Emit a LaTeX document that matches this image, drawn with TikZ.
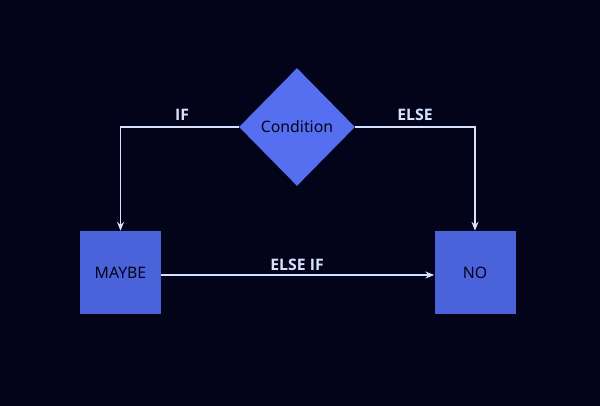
\documentclass[tikz,border=0pt]{standalone}
\usepackage{fontspec}
\setmainfont{Noto Sans}
\newfontfamily\lblfont{Open Sans}
\usetikzlibrary{shapes.geometric,arrows.meta}
\definecolor{bgnavy}{HTML}{03031A}
\definecolor{boxblue}{HTML}{4A63DB}
\definecolor{diablue}{HTML}{566EF0}
\definecolor{linecol}{HTML}{D6E2FF}
\tikzset{
  box/.style={fill=boxblue,minimum width=1.62cm,minimum height=1.66cm,inner sep=0pt,font=\small,text=bgnavy},
  cond/.style={diamond,fill=diablue,minimum width=2.32cm,minimum height=2.36cm,inner sep=0pt,font=\small,text=bgnavy},
  link/.style={draw=linecol,line width=0.8pt,-{Stealth[length=5pt,width=4pt]}},
  lbl/.style={text=linecol,font=\lblfont\small\bfseries}
}
\begin{document}
\begin{tikzpicture}
    \fill[bgnavy] (0,0) rectangle (12,8.12);
    \node[cond] (cond) at (5.94,5.58) {Condition};
    \node[box] (maybe) at (2.41,2.67) {MAYBE};
    \node[box] (no) at (9.50,2.67) {NO};
    \draw[link] (cond.west) -| (maybe.north);
    \draw[link] (cond.east) -| (no.north);
    \draw[link] (maybe.east |- 0,2.62) -- (no.west |- 0,2.62);
    \node[lbl] (lif) at (3.64,5.82) {IF};
    \node[lbl] (lelse) at (8.30,5.82) {ELSE};
    \node[lbl] (lelseif) at (5.94,2.82) {ELSE IF};
\end{tikzpicture}
\end{document}
